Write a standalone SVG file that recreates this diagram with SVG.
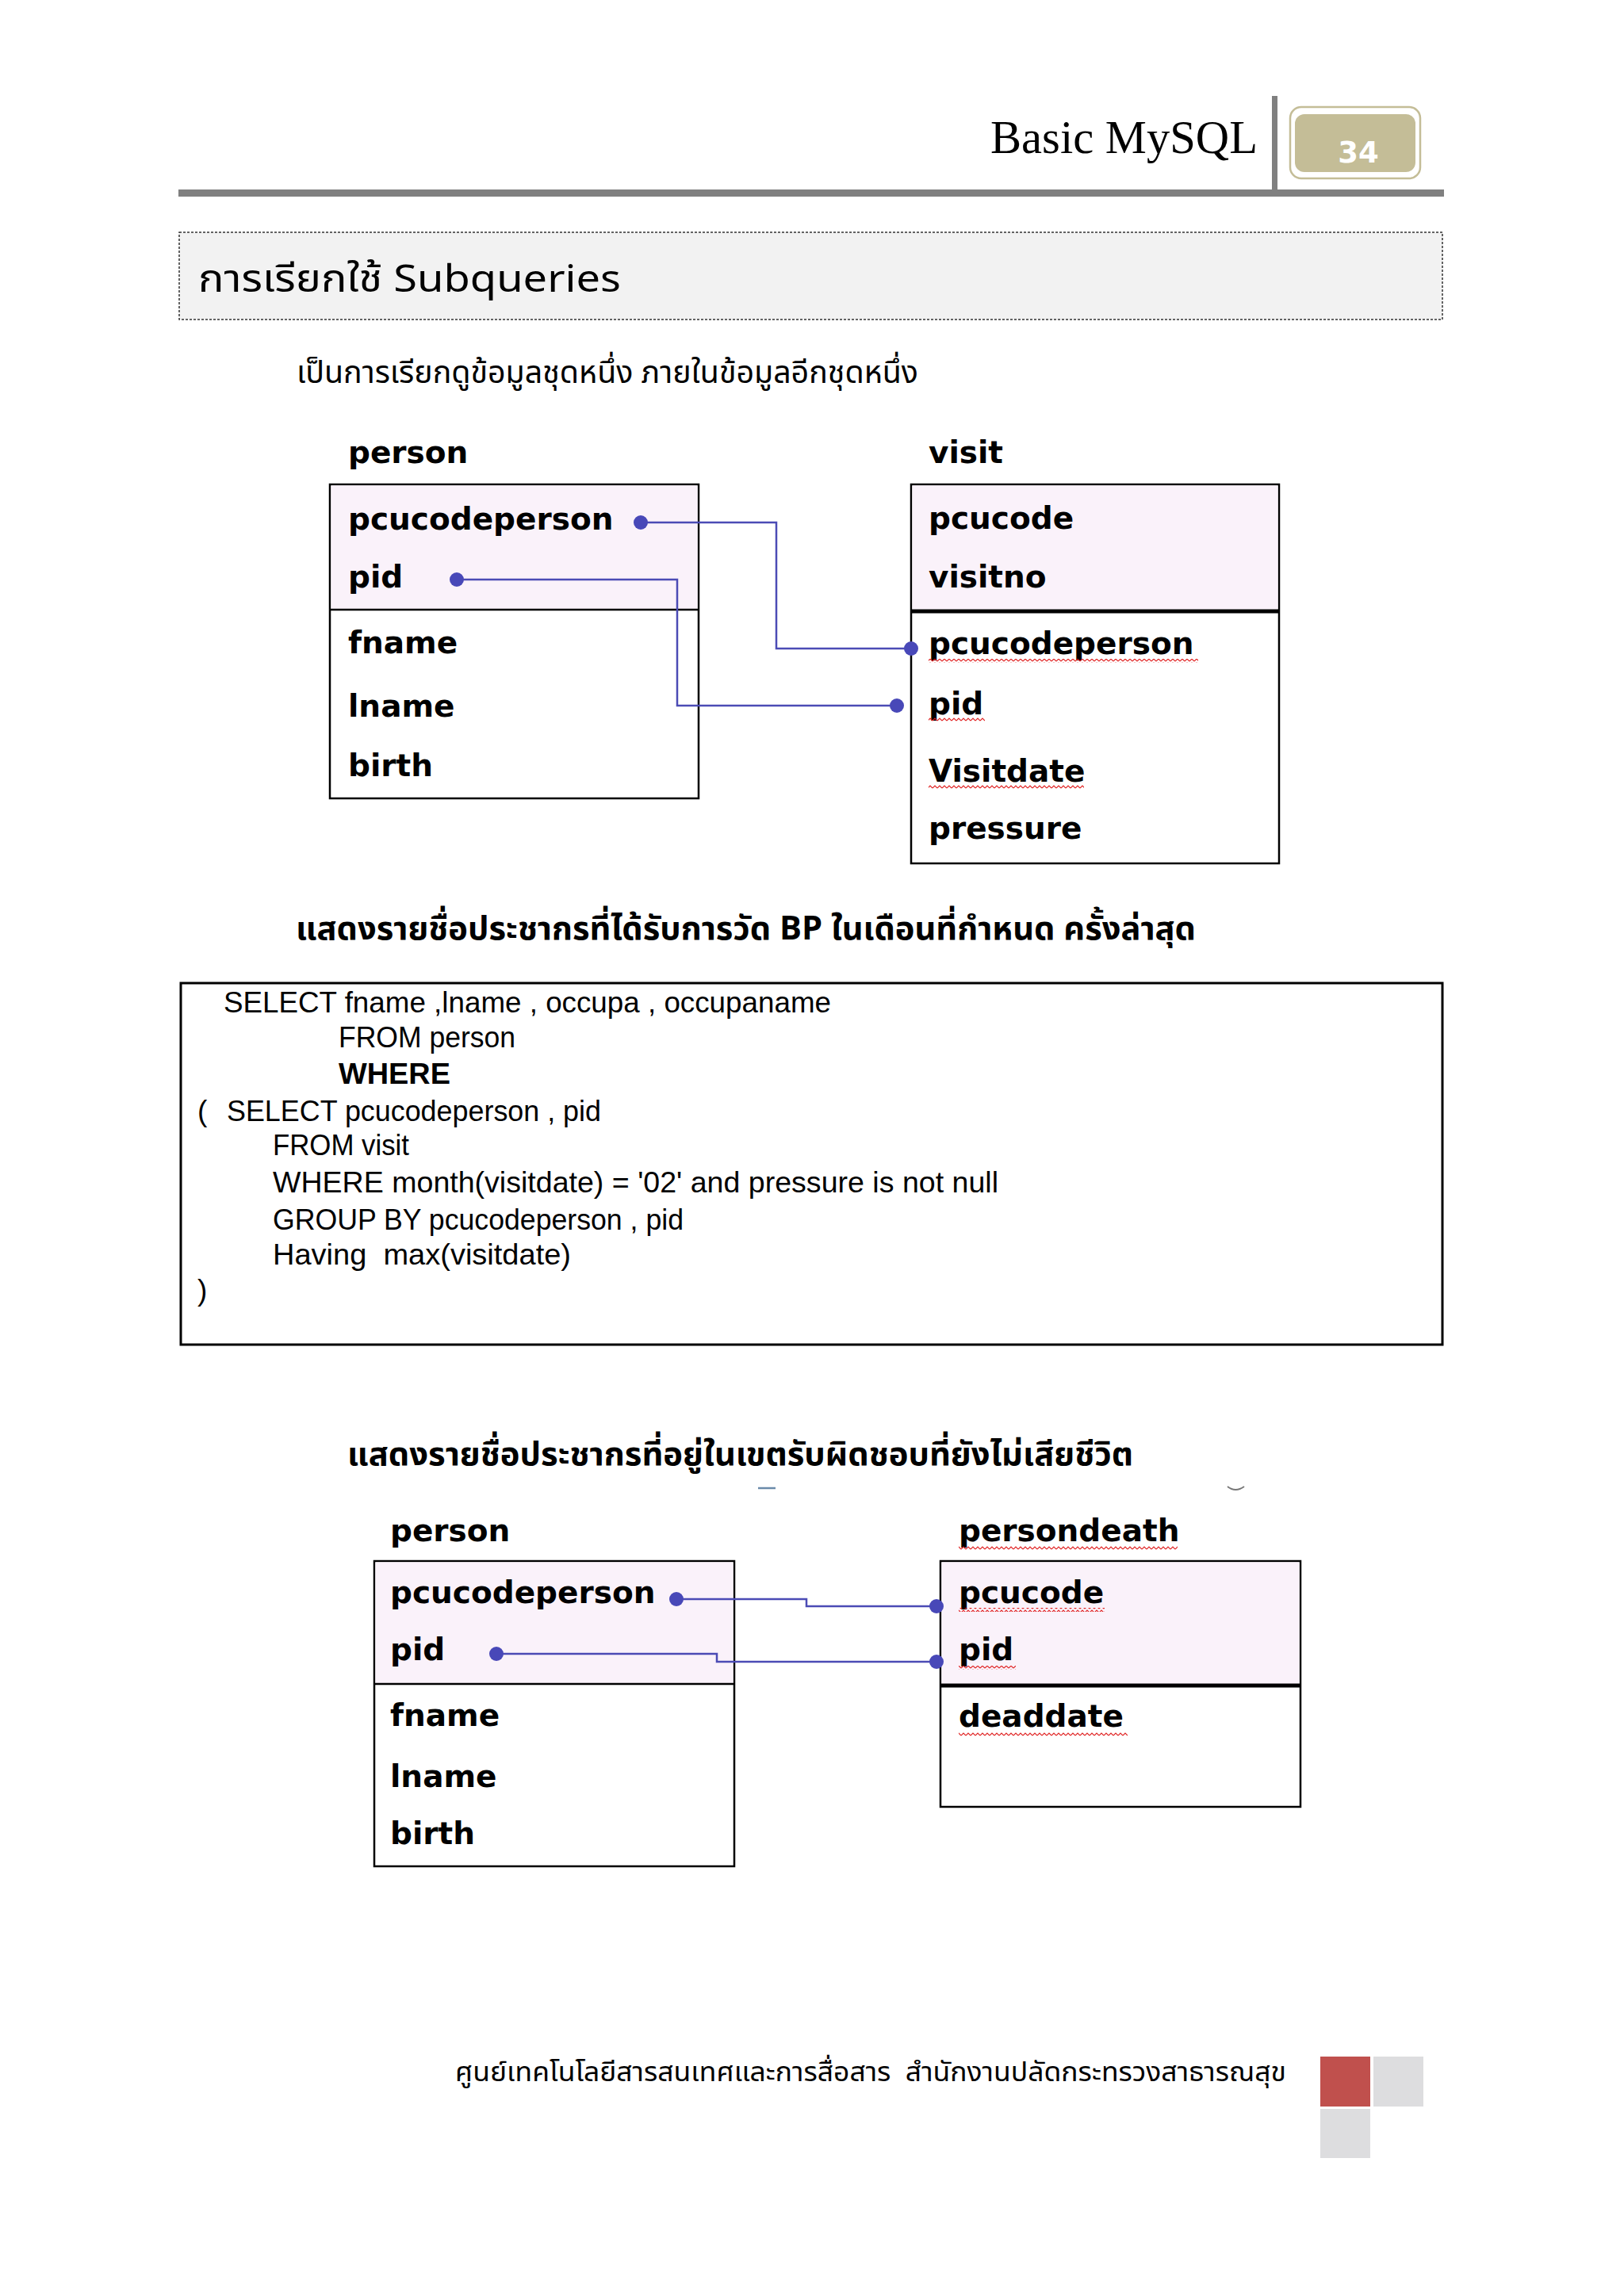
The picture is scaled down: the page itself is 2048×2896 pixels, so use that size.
<svg xmlns="http://www.w3.org/2000/svg" width="2048" height="2896" viewBox="0 0 2048 2896">
<defs>
<style>
.fld{font-family:"DejaVu Sans","Noto Sans",sans-serif;font-weight:bold;font-size:39px;fill:#000}
.sql{font-family:"Liberation Sans",Arial,sans-serif;font-size:37px;fill:#000}
.th{font-family:"Noto Sans Thai",Tahoma,"Noto Sans","DejaVu Sans",sans-serif;fill:#000}
.tbl{fill:#fff;stroke:#000;stroke-width:2.5}
.hdr{fill:#FAF2FA}
.conn{fill:none;stroke:#4B4BB5;stroke-width:2.5}
.dot{fill:#4848B8}
.sq{fill:url(#wave)}
</style>
<pattern id="wave" x="0" y="0" width="6" height="5" patternUnits="userSpaceOnUse">
<path d="M0,4 L3,1 L6,4" fill="none" stroke="#E02020" stroke-width="1.2"/>
</pattern>
</defs>
<rect x="0" y="0" width="2048" height="2896" fill="#fff"/>

<g id="page-header">
<text x="1586" y="193" font-family="Liberation Serif,serif" font-size="60" text-anchor="end" textLength="337" lengthAdjust="spacingAndGlyphs">Basic MySQL</text>
<rect x="1604" y="121" width="7" height="120" fill="#808080"/>
<rect x="225" y="239" width="1596" height="9" fill="#808080"/>
<rect x="1627" y="135" width="164" height="90" rx="14" fill="#fff" stroke="#C4BD97" stroke-width="2.5"/>
<rect x="1633" y="144" width="152" height="73" rx="12" fill="#C4BD97"/>
<text x="1713" y="205" font-family="DejaVu Sans,sans-serif" font-weight="bold" font-size="37" fill="#fff" text-anchor="middle">34</text>
</g>

<g id="title">
<rect x="226" y="293" width="1593" height="110" fill="#F2F2F2" stroke="#333" stroke-width="1.5" stroke-dasharray="3 2"/>
<text class="th" x="250" y="368" font-size="48" textLength="533" lengthAdjust="spacingAndGlyphs">การเรียกใช้ Subqueries</text>
</g>

<text id="desc" class="th" x="374" y="483" font-size="39" textLength="784" lengthAdjust="spacingAndGlyphs">เป็นการเรียกดูข้อมูลชุดหนึ่ง ภายในข้อมูลอีกชุดหนึ่ง</text>

<g id="person1">
<text class="fld" x="439" y="584">person</text>
<rect class="tbl" x="416" y="611" width="465" height="396"/>
<rect class="hdr" x="417.5" y="612.5" width="462" height="156"/>
<line x1="416" y1="769" x2="881" y2="769" stroke="#000" stroke-width="2.5"/>
<text class="fld" x="439" y="668">pcucodeperson</text>
<text class="fld" x="439" y="741">pid</text>
<text class="fld" x="439" y="824">fname</text>
<text class="fld" x="439" y="904">lname</text>
<text class="fld" x="439" y="979">birth</text>
</g>

<g id="visit">
<text class="fld" x="1171" y="584">visit</text>
<rect class="tbl" x="1149" y="611" width="464" height="478"/>
<rect class="hdr" x="1150.5" y="612.5" width="461" height="156"/>
<line x1="1149" y1="771" x2="1613" y2="771" stroke="#000" stroke-width="5"/>
<text class="fld" x="1171" y="667">pcucode</text>
<text class="fld" x="1171" y="741">visitno</text>
<text class="fld" x="1171" y="825">pcucodeperson</text>
<text class="fld" x="1171" y="901">pid</text>
<text class="fld" x="1171" y="986">Visitdate</text>
<text class="fld" x="1171" y="1058">pressure</text>
<rect class="sq" x="1171" y="831" width="340" height="5"/>
<rect class="sq" x="1171" y="905" width="71" height="5"/>
<rect class="sq" x="1171" y="990" width="196" height="5"/>
</g>

<g id="connectors1">
<polyline class="conn" points="808,659 979,659 979,818 1149,818"/>
<polyline class="conn" points="576,731 854,731 854,890 1131,890"/>
<circle class="dot" cx="808" cy="659" r="9"/>
<circle class="dot" cx="1149" cy="818" r="9"/>
<circle class="dot" cx="576" cy="731" r="9"/>
<circle class="dot" cx="1131" cy="890" r="9"/>
</g>

<text id="heading1" class="th" x="373" y="1185" font-size="41" font-weight="bold" textLength="1135" lengthAdjust="spacingAndGlyphs">แสดงรายชื่อประชากรที่ได้รับการวัด BP ในเดือนที่กำหนด ครั้งล่าสุด</text>

<g id="sql">
<rect x="228" y="1240" width="1591" height="456" fill="#fff" stroke="#000" stroke-width="3"/>
<text class="sql" x="282" y="1277" textLength="766" lengthAdjust="spacingAndGlyphs">SELECT fname ,lname , occupa , occupaname</text>
<text class="sql" x="427" y="1321" textLength="223" lengthAdjust="spacingAndGlyphs">FROM person</text>
<text class="sql" x="427" y="1367" font-weight="bold" textLength="141" lengthAdjust="spacingAndGlyphs">WHERE</text>
<text class="sql" x="249" y="1414">(</text>
<text class="sql" x="286" y="1414" textLength="472" lengthAdjust="spacingAndGlyphs">SELECT pcucodeperson , pid</text>
<text class="sql" x="344" y="1457" textLength="172" lengthAdjust="spacingAndGlyphs">FROM visit</text>
<text class="sql" x="344" y="1504" textLength="915" lengthAdjust="spacingAndGlyphs">WHERE month(visitdate) = '02' and pressure is not null</text>
<text class="sql" x="344" y="1551" textLength="518" lengthAdjust="spacingAndGlyphs">GROUP BY pcucodeperson , pid</text>
<text class="sql" x="344" y="1595" xml:space="preserve" textLength="376" lengthAdjust="spacingAndGlyphs">Having  max(visitdate)</text>
<text class="sql" x="249" y="1640">)</text>
</g>

<text id="heading2" class="th" x="438" y="1848" font-size="41" font-weight="bold" textLength="991" lengthAdjust="spacingAndGlyphs">แสดงรายชื่อประชากรที่อยู่ในเขตรับผิดชอบที่ยังไม่เสียชีวิต</text>
<line x1="956" y1="1877" x2="978" y2="1877" stroke="#6A8AAA" stroke-width="2.5"/>
<path d="M1548,1875 q10,8 21,0" fill="none" stroke="#777" stroke-width="2"/>

<g id="person2">
<text class="fld" x="492" y="1944">person</text>
<rect class="tbl" x="472" y="1969" width="454" height="385"/>
<rect class="hdr" x="473.5" y="1970.5" width="451" height="153"/>
<line x1="472" y1="2124" x2="926" y2="2124" stroke="#000" stroke-width="2.5"/>
<text class="fld" x="492" y="2022">pcucodeperson</text>
<text class="fld" x="492" y="2094">pid</text>
<text class="fld" x="492" y="2177">fname</text>
<text class="fld" x="492" y="2254">lname</text>
<text class="fld" x="492" y="2326">birth</text>
</g>

<g id="persondeath">
<text class="fld" x="1209" y="1944">persondeath</text>
<rect class="sq" x="1209" y="1950" width="276" height="5"/>
<rect class="tbl" x="1186" y="1969" width="454" height="310"/>
<rect class="hdr" x="1187.5" y="1970.5" width="451" height="154"/>
<line x1="1186" y1="2126" x2="1640" y2="2126" stroke="#000" stroke-width="5"/>
<text class="fld" x="1209" y="2022">pcucode</text>
<text class="fld" x="1209" y="2094">pid</text>
<text class="fld" x="1209" y="2178">deaddate</text>
<rect class="sq" x="1209" y="2028" width="184" height="5"/>
<rect class="sq" x="1209" y="2101" width="72" height="5"/>
<rect class="sq" x="1209" y="2185" width="213" height="5"/>
</g>

<g id="connectors2">
<polyline class="conn" points="853,2017 1017,2017 1017,2026 1181,2026"/>
<polyline class="conn" points="626,2086 904,2086 904,2096 1181,2096"/>
<circle class="dot" cx="853" cy="2017" r="9"/>
<circle class="dot" cx="1181" cy="2026" r="9"/>
<circle class="dot" cx="626" cy="2086" r="9"/>
<circle class="dot" cx="1181" cy="2096" r="9"/>
</g>

<g id="footer">
<text class="th" x="574" y="2625" font-size="33" xml:space="preserve" textLength="1048" lengthAdjust="spacingAndGlyphs">ศูนย์เทคโนโลยีสารสนเทศและการสื่อสาร  สำนักงานปลัดกระทรวงสาธารณสุข</text>
<rect x="1665" y="2594" width="63" height="63" fill="#C0504D"/>
<rect x="1732" y="2594" width="63" height="63" fill="#DDDDDF"/>
<rect x="1665" y="2660" width="63" height="62" fill="#DDDDDF"/>
</g>
</svg>
